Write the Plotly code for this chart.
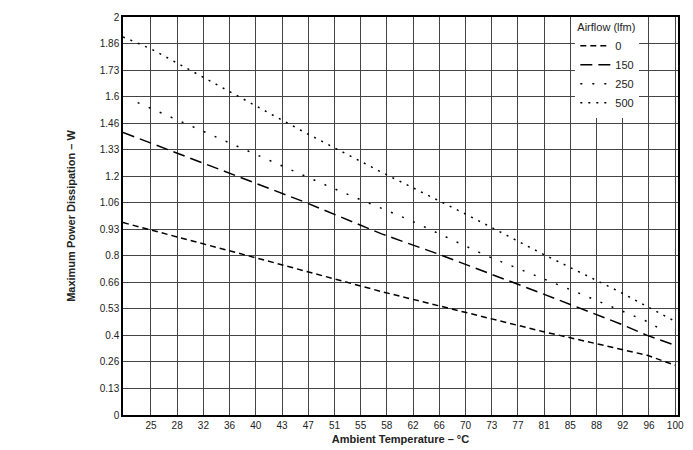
import plotly.graph_objects as go

x0 = [21, 25, 40, 58, 66, 81, 96, 100]
y0 = [0.967, 0.93, 0.79, 0.62, 0.55, 0.42, 0.30, 0.25]
x150 = [21, 36, 47, 58, 66, 81, 92, 96, 100]
y150 = [1.42, 1.22, 1.07, 0.91, 0.81, 0.61, 0.46, 0.40, 0.35]
x250 = [23.1, 40, 51, 62, 73, 85, 96, 98]
y250 = [1.57, 1.31, 1.14, 0.98, 0.80, 0.63, 0.47, 0.43]
x500 = [21, 25, 36, 47, 58, 70, 81, 92, 100]
y500 = [1.90, 1.84, 1.63, 1.42, 1.22, 1.01, 0.81, 0.62, 0.47]

xtick_vals = [25 + 3.75 * i for i in range(21)]
xtick_text = ["25", "28", "32", "36", "40", "43", "47", "51", "55", "58", "62",
              "66", "70", "73", "77", "81", "85", "88", "92", "96", "100"]
ytick_vals = [2 * i / 15 for i in range(16)]
ytick_text = ["0", "0.13", "0.26", "0.4", "0.53", "0.66", "0.8", "0.93", "1.06",
              "1.2", "1.33", "1.46", "1.6", "1.73", "1.86", "2"]

series = [("0", x0, y0, "6px,4px"), ("150", x150, y150, "12px,6px"),
          ("250", x250, y250, "2px,10px"), ("500", x500, y500, "2px,6px")]

fig = go.Figure()
for name, xs, ys, dash in series:
    fig.add_trace(go.Scatter(x=xs, y=ys, mode="lines", name=name,
                             line=dict(color="black", width=1.5, dash=dash)))

font = dict(family="Liberation Sans, Arial", size=10, color="#222")
fig.update_layout(
    width=693, height=450, margin=dict(l=115, r=23, t=9, b=43, autoexpand=False),
    plot_bgcolor="white", paper_bgcolor="white", font=font,
    legend=dict(title=dict(text="Airflow (lfm)", font=dict(size=11)), x=0.815, y=1, xanchor="left", yanchor="top",
                bgcolor="white", font=dict(size=11), tracegroupgap=0, itemwidth=30),
    xaxis=dict(range=[21, 100.4], tickvals=xtick_vals, ticktext=xtick_text, showgrid=True,
               gridcolor="#444", gridwidth=1, showline=True, linecolor="black", linewidth=1.5, mirror=True,
               ticks="", zeroline=False, automargin=False,
               title=dict(text="<b>Ambient Temperature – °C</b>", standoff=6, font=dict(size=11))),
    yaxis=dict(range=[0, 2], tickvals=ytick_vals, ticktext=ytick_text, showgrid=True,
               gridcolor="#444", gridwidth=1, showline=True, linecolor="black", linewidth=1.5, mirror=True,
               ticks="", zeroline=False, automargin=False,
               title=dict(text="<b>Maximum Power Dissipation – W</b>", standoff=22, font=dict(size=11))),
)
fig.write_html("out.html")
